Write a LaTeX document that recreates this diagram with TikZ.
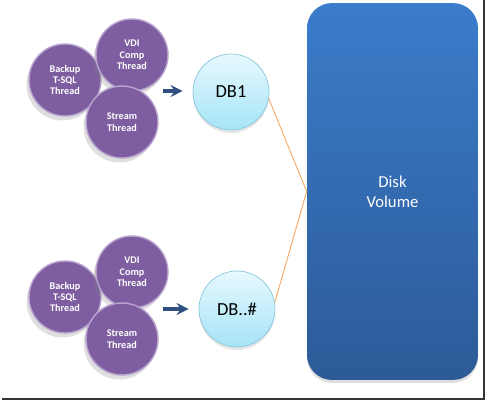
\documentclass[tikz,border=0pt]{standalone}
\usepackage{fontspec}
\setmainfont{Carlito}
\usetikzlibrary{arrows,shadows}
\definecolor{threadpurple}{HTML}{7E5EA0}
\definecolor{threadrim}{HTML}{B8A4CE}
\definecolor{dbtop}{HTML}{E6F9FE}
\definecolor{dbbottom}{HTML}{A6E4F7}
\definecolor{dbrim}{HTML}{86C6DA}
\definecolor{disktop}{HTML}{3B7CCB}
\definecolor{diskbottom}{HTML}{2C5A97}
\definecolor{arrowblue}{HTML}{2F507F}
\definecolor{linkorange}{HTML}{F7A65E}
\tikzstyle{thread} = [circle,fill=threadpurple,draw=threadrim,line width=0.8pt,
	minimum size=1.44cm,inner sep=0pt,text=white,align=center,
	font=\bfseries\fontsize{5.8}{6.5}\selectfont,
	drop shadow={opacity=0.25,shadow xshift=-0.05cm,shadow yshift=-0.09cm}]
\tikzstyle{db} = [circle,top color=dbtop,bottom color=dbbottom,draw=dbrim,
	minimum size=1.52cm,inner sep=0pt,font=\fontsize{10.5}{12}\selectfont,
	drop shadow={opacity=0.2,shadow xshift=0cm,shadow yshift=-0.06cm}]
\tikzstyle{disk} = [rectangle,rounded corners=0.5cm,top color=disktop,bottom color=diskbottom,
	minimum width=3.42cm,minimum height=7.54cm,text=white,align=center,
	font=\fontsize{9.5}{11.4}\selectfont,
	drop shadow={opacity=0.25,shadow xshift=0cm,shadow yshift=-0.06cm}]
\tikzstyle{arrow} = [line width=2pt,->,>=stealth,draw=arrowblue,shorten >=0.2cm]
\tikzstyle{link} = [draw=linkorange,line width=0.5pt]

\begin{document}
\begin{tikzpicture}[x=0.02cm,y=-0.02cm]
	\useasboundingbox (0,0) rectangle (487,402);

	% define constants
	\def \off {217}

	% Draw the thread groups
	\node[thread] (backupA) at (65,80) {Backup\\T-SQL\\Thread};
	\node[thread] (vdiA) at (132,55) {VDI\\Comp\\Thread};
	\node[thread] (streamA) at (122,122) {Stream\\Thread};

	\node[thread] (backupB) at (65,80+\off) {Backup\\T-SQL\\Thread};
	\node[thread] (vdiB) at (132,55+\off) {VDI\\Comp\\Thread};
	\node[thread] (streamB) at (122,122+\off) {Stream\\Thread};

	% Draw the databases and the volume
	\node[db] (dbA) at (231,92) {DB1};
	\node[db] (dbB) at (237,309) {DB..\#};
	\node[disk] (disk) at (392.5,191.5) {Disk\\Volume};

	% arrows and links
	\coordinate (arrA) at (163,91);
	\coordinate (arrB) at (163,309);
	\draw[arrow] (arrA) -- (arrA -| dbA.west);
	\draw[arrow] (arrB) -- (arrB -| dbB.west);
	\draw[link] (dbA.-10) -- (disk.west);
	\draw[link] (dbB.10) -- (disk.west);

	% frame
	\draw[gray!40!black,line width=1.1pt] (484,0) -- (484,399) -- (2,399);
\end{tikzpicture}
\end{document}
